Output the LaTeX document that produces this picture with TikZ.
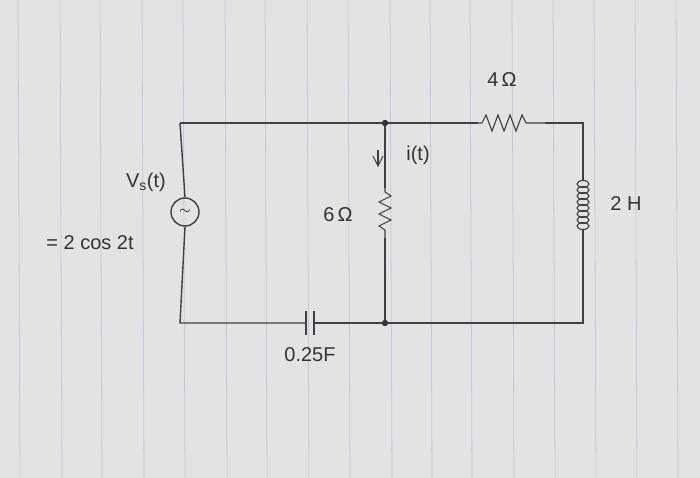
\documentclass[tikz,border=0pt]{standalone}
\usepackage{fontspec}
\setmainfont{Liberation Sans}
\begin{document}
\begin{tikzpicture}[x=1pt,y=-1pt,
  wire/.style={draw=black!75,line width=1.4pt},
  lbl/.style={font=\fontsize{20}{20}\selectfont,text=black!80,inner sep=1pt},
  paperline/.style={draw=blue!25!gray!35,line width=0.8pt}]
\fill[gray!22] (0,0) rectangle (700,478);
\useasboundingbox (0,0) rectangle (700,478);
\foreach \x in {18,60,100,142,183,225,265,307,348,390,430,470,512,553,594,635,676}
  \draw[paperline] (\x,0) -- (\x+2,478);
% nodes
\coordinate (tl) at (180,123); \coordinate (tm) at (385,123); \coordinate (tr) at (583,123);
\coordinate (bl) at (180,323); \coordinate (bm) at (385,323); \coordinate (br) at (583,323);
\node[circle,draw=black!75,line width=1.4pt,minimum size=28pt,inner sep=0pt,font=\Large] (src) at (185,212) {$\sim$};
\coordinate (r6a) at (385,188); \coordinate (r6b) at (385,238);
\coordinate (r4a) at (478,123); \coordinate (r4b) at (545,123);
\coordinate (la) at (583,180); \coordinate (lb) at (583,232);
\coordinate (ca) at (306,323); \coordinate (cb) at (314,323);
% wires
\draw[wire] (tl) -- (r4a); \draw[wire] (r4b) -- (tr) -- (la);
\draw[wire] (lb) -- (br) -- (bm) -- (cb);
\draw[wire] (ca) -- (bl) -- (src.south);
\draw[wire] (src.north) -- (tl);
\draw[wire] (tm) -- (r6a); \draw[wire] (r6b) -- (bm);
% 6 ohm resistor
\draw[wire,line width=1.1pt] (r6a) -- ++(0,4) -- ++(6,4) -- ++(-12,6) -- ++(12,6) -- ++(-12,6) -- ++(12,6) -- ++(-12,6) -- ++(6,4) -- (r6b);
% 4 ohm resistor
\draw[wire,line width=1.1pt] (r4a) -- ++(4,0) -- ++(4,-8) -- ++(6,16) -- ++(6,-16) -- ++(6,16) -- ++(6,-16) -- ++(6,16) -- ++(6,-16) -- ++(4,8) -- ++(10,0) -- (r4b);
% inductor
\foreach \i in {0,...,7}
  \draw[wire,line width=1.1pt] (583,{184+6*\i}) ellipse [x radius=6,y radius=3.5];
\draw[wire] (la) -- (583,181); \draw[wire] (583,229) -- (lb);
% capacitor
\draw[wire] (306,311) -- (306,335); \draw[wire] (314,311) -- (314,335);
% dots
\fill[black!80] (tm) circle (3.2); \fill[black!80] (bm) circle (3.2);
% current arrow
\draw[wire,line width=1.1pt] (373,156) -- (378,166) -- (383,156);
\draw[wire,line width=1.1pt] (378,150) -- (378,166);
% labels
\node[lbl] (l4) at (502,80) {4\,Ω};
\node[lbl] (li) at (418,155) {i(t)};
\node[lbl] (lvs) at (146,182) {V$_{\mathrm s}$(t)};
\node[lbl] (lv) at (90,243) {= 2 cos 2t};
\node[lbl] (l6) at (338,215) {6\,Ω};
\node[lbl] (lh) at (626,204) {2 H};
\node[lbl] (lc) at (310,355) {0.25F};
\end{tikzpicture}
\end{document}
